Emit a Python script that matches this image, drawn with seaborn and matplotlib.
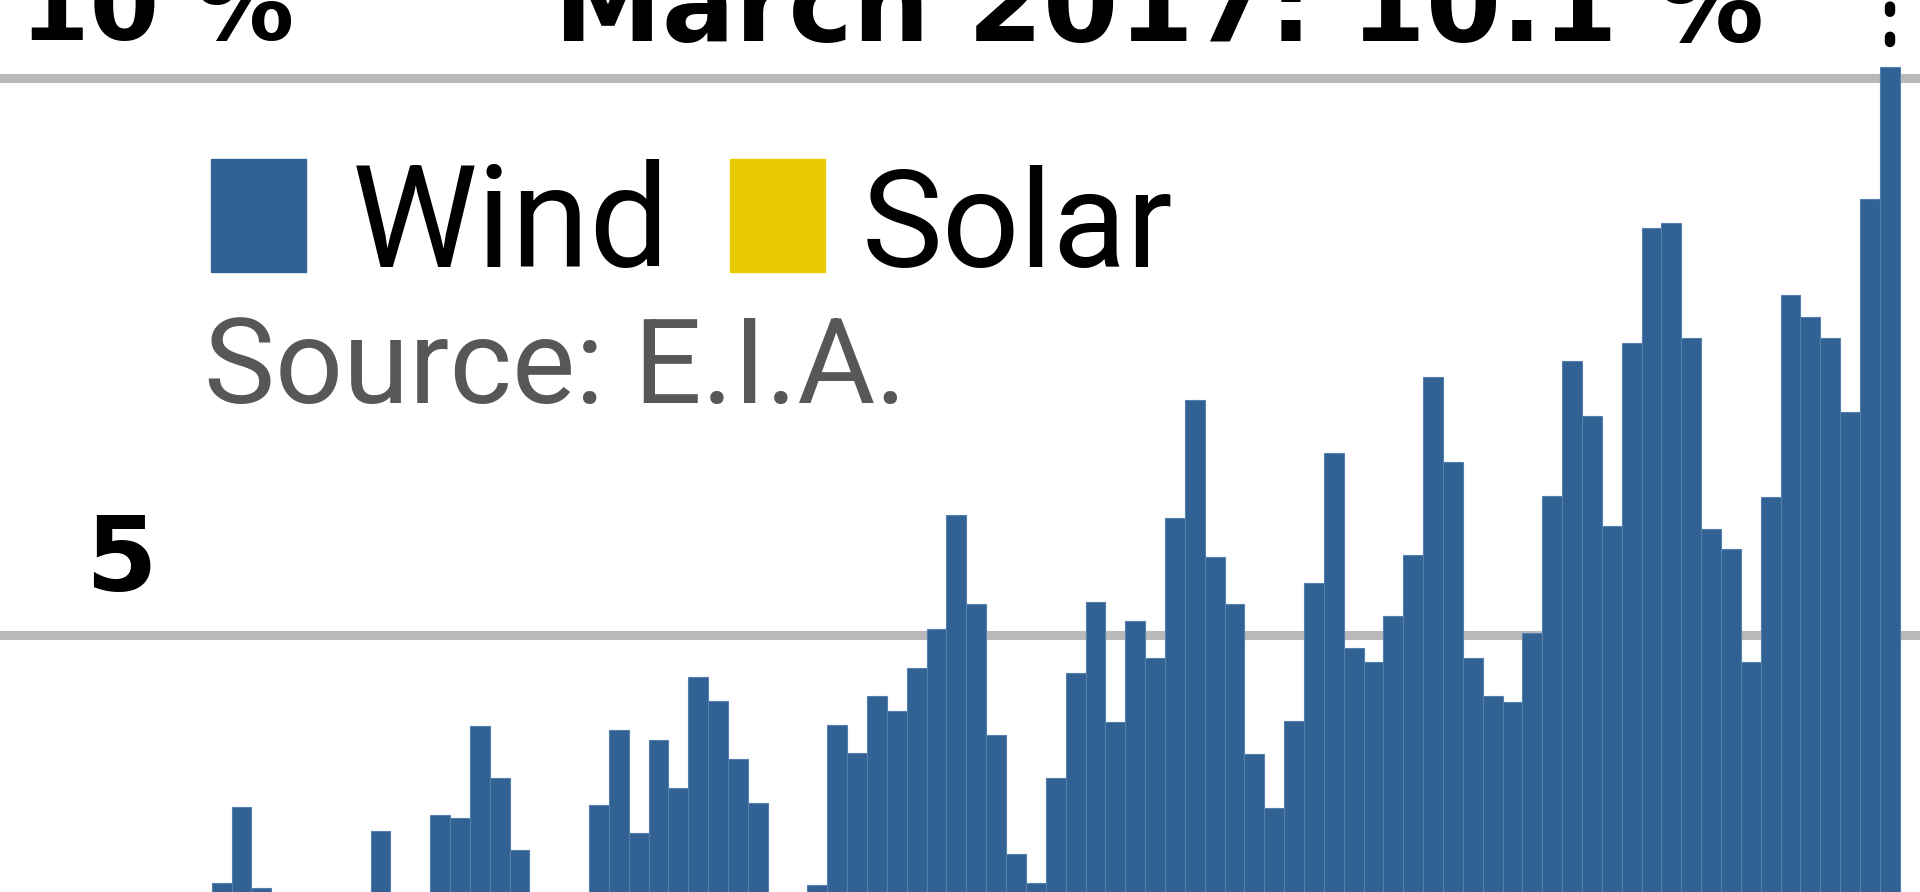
import pandas as pd
import matplotlib.pyplot as plt
import matplotlib.transforms as mtransforms
from matplotlib.patches import Rectangle
import seaborn as sns

sns.set_theme(style="white")
plt.rcParams['font.family'] = ['DejaVu Sans']

# monthly share of U.S. electricity generation (wind + solar, %), Mar 2010 - Mar 2017
months = pd.date_range("2010-03-01", "2017-03-01", freq="MS").strftime("%Y-%m").tolist()
share = [2.77, 3.46, 2.73, 2.4, 2.0, 1.9, 2.2, 2.5, 3.24, 2.6,
         2.6, 3.38, 3.36, 4.18, 3.72, 3.07, 2.5, 2.2, 2.5, 3.47,
         4.15, 3.22, 4.06, 3.63, 4.62, 4.41, 3.89, 3.49, 2.6, 2.4,
         2.76, 4.19, 3.94, 4.45, 4.32, 4.70, 5.05, 6.08, 5.28, 4.10,
         3.03, 2.77, 3.72, 4.66, 5.30, 4.22, 5.13, 4.79, 6.05, 7.11,
         5.70, 5.28, 3.93, 3.45, 4.23, 5.47, 6.63, 4.88, 4.76, 5.17,
         5.72, 7.32, 6.55, 4.79, 4.45, 4.40, 5.02, 6.25, 7.46, 6.97,
         5.98, 7.62, 8.65, 8.70, 7.67, 5.95, 5.77, 4.76, 6.24, 8.05,
         7.85, 7.67, 7.00, 8.91, 10.1]
grid_values = [5, 10]
grid_labels = ["5", "10 %"]
legend_labels = ["Wind", "Solar"]
callout = "March 2017: 10.1 %"
source = "Source: E.I.A."

WIND = "#326294"
SOLAR = "#e8cb00"
GRID = "#b9b9bc"

df = pd.DataFrame({"month": months, "share": share})

fig = plt.figure(figsize=(19.2, 8.92), dpi=100)
ax = fig.add_axes([0, 0, 1, 1])

sns.barplot(data=df, x="month", y="share", order=months, color=WIND,
            saturation=1, width=1.0, edgecolor="#5580ad", linewidth=0.8, ax=ax)

ax.set_xlim(-11.16, 85.52)
ax.set_ylim(2.693, 10.70)
ax.set_yticks(grid_values)
ax.yaxis.grid(True, color=GRID, linewidth=6.5)
ax.xaxis.grid(False)
ax.set_axisbelow(True)
ax.set_xticks([])
ax.tick_params(left=False, labelleft=False)
ax.set_xlabel("")
ax.set_ylabel("")
for s in ax.spines.values():
    s.set_visible(False)

# grid labels sit above their lines
trans = mtransforms.blended_transform_factory(ax.transAxes, ax.transData)
ax.annotate(grid_labels[0], xy=(0.0445, grid_values[0]), xycoords=trans,
            xytext=(0, 32), textcoords="offset points", va="baseline",
            fontsize=74, fontweight="bold", color="black")
ax.annotate(grid_labels[1], xy=(0.0105, grid_values[1]), xycoords=trans,
            xytext=(0, 27), textcoords="offset points", va="baseline",
            fontsize=72, fontweight="bold", color="black")

# callout for the last bar, with a dotted leader
fig.text(0.2885, 0.9545, callout, fontsize=78, fontweight="bold",
         va="baseline", ha="left", color="black")
last = len(share) - 1
ax.plot([last, last], [share[-1] + 0.22, 11.2], color="black", linewidth=7.5,
        linestyle=(0, (0.5, 2.4)), dash_capstyle="round", solid_capstyle="round")

# legend + source
fig.add_artist(Rectangle((0.1099, 0.6951), 0.0495, 0.1267,
                         transform=fig.transFigure, color=WIND))
fig.add_artist(Rectangle((0.3802, 0.6951), 0.0495, 0.1267,
                         transform=fig.transFigure, color=SOLAR))
fig.text(0.1833, 0.7007, legend_labels[0], fontsize=102, family="Roboto",
         va="baseline", color="black")
fig.text(0.449, 0.7007, legend_labels[1], fontsize=98, family="Roboto",
         va="baseline", color="black")
fig.text(0.1063, 0.548, source, fontsize=86, family="Roboto",
         va="baseline", color="#575757")

fig.savefig("out.png", dpi=100, facecolor="white")
plt.close(fig)
